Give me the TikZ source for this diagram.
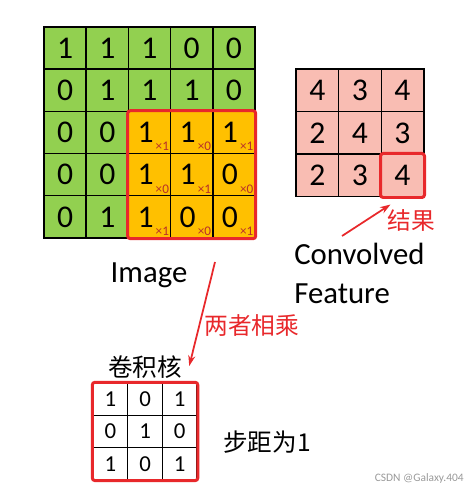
\documentclass[tikz,border=0pt]{standalone}
\usepackage{fontspec}
\setmainfont{Carlito}
\newfontfamily\cjk{Noto Sans CJK SC}
\usetikzlibrary{arrows.meta}

\definecolor{imggreen}{HTML}{92D050}
\definecolor{imgorange}{HTML}{FFC000}
\definecolor{featpink}{HTML}{F9BDB3}
\definecolor{markred}{HTML}{E8282B}
\definecolor{tagred}{HTML}{B8302A}

\begin{document}
\begin{tikzpicture}[x=0.02cm,y=-0.02cm,
  cell/.style={draw=black,line width=0.8pt,inner sep=0pt},
  digit/.style={font=\fontsize{18}{20}\selectfont},
  tag/.style={inner sep=0pt,text=tagred,font=\fontsize{7.5}{9}\selectfont},
  markbox/.style={draw=markred,line width=1.7pt,rounded corners=1.5pt},
  arr/.style={draw=markred,line width=1pt,-{Stealth[length=6pt,width=4pt]}},
  redtext/.style={inner sep=0pt,text=markred,font=\cjk\fontsize{13.5}{15}\selectfont},
  title/.style={inner sep=0pt,font=\fontsize{17.5}{20}\selectfont},
  cjktitle/.style={inner sep=0pt,font=\cjk\fontsize{14}{16}\selectfont}]
  \useasboundingbox (0,0) rectangle (474,492);
  % Sizes
  \pgfmathsetmacro{\imgcell}{42.2}
  \pgfmathsetmacro{\featcell}{42.6}
  \pgfmathsetmacro{\kerw}{34.7}
  \pgfmathsetmacro{\kerh}{32.3}

  % image
  \foreach \row/\vals in {0/{1,1,1,0,0},1/{0,1,1,1,0},2/{0,0,1,1,1},3/{0,0,1,1,0},4/{0,1,1,0,0}} {
    \foreach \v [count=\col from 0] in \vals {
      \def\shade{imggreen}\def\pad{0pt}
      \ifnum\row>1 \ifnum\col>1 \def\shade{imgorange}\def\pad{4.5pt}\fi\fi
      \node[cell,digit,fill=\shade,minimum width=\imgcell*0.02cm,minimum height=\imgcell*0.02cm]
        (img-\row-\col) at (44+\imgcell*\col+\imgcell/2, 27+\imgcell*\row+\imgcell/2) {\v\kern\pad};
    }
  }
  % kernel weights on the patch
  \foreach \row in {2,3,4} {
    \foreach \col in {2,3,4} {
      \pgfmathtruncatemacro{\w}{mod(\row+\col,2)==0 ? 1 : 0}
      \node[tag,anchor=south east] at ([shift={(-2,-3)}]img-\row-\col.south east) {×\w};
    }
  }
  \draw[markbox] (img-2-2.north west) rectangle (img-4-4.south east);
  \node[title] (img-title) at (149,275) {Image};

  % convolved feature
  \foreach \row/\vals in {0/{4,3,4},1/{2,4,3},2/{2,3,4}} {
    \foreach \v [count=\col from 0] in \vals {
      \node[cell,digit,fill=featpink,minimum width=\featcell*0.02cm,minimum height=\featcell*0.02cm]
        (feat-\row-\col) at (296+\featcell*\col+\featcell/2, 69+\featcell*\row+\featcell/2) {\v};
    }
  }
  \draw[markbox] (feat-2-2.north west) rectangle (feat-2-2.south east);
  \node[title,anchor=west] (feat-title1) at (294,254) {Convolved};
  \node[title,anchor=west] (feat-title2) at (294,294) {Feature};

  % result marker
  \node[redtext,anchor=west] (res-label) at (387,220) {结果};
  \coordinate (res-tail) at (342,236);
  \draw[arr] (res-tail) -- ([shift={(10,7)}]feat-2-2.south west);

  % kernel
  \node[cjktitle] (ker-title) at (145,367) {卷积核};
  \foreach \row/\vals in {0/{1,0,1},1/{0,1,0},2/{1,0,1}} {
    \foreach \v [count=\col from 0] in \vals {
      \node[cell,font=\fontsize{13}{15}\selectfont,minimum width=\kerw*0.02cm,minimum height=\kerh*0.02cm]
        (ker-\row-\col) at (93+\kerw*\col+\kerw/2, 383+\kerh*\row+\kerh/2) {\v};
    }
  }
  \draw[markbox] (ker-0-0.north west) rectangle (ker-2-2.south east);
  \node[cjktitle,anchor=west] (stride) at (223,442) {步距为1};

  % multiply marker
  \coordinate (mul-tail) at (215,262);
  \draw[arr] (mul-tail) -- ([shift={(7,-1)}]ker-title.east);
  \node[redtext,anchor=west] (mul-label) at (204,325) {两者相乘};

  % watermark
  \node[inner sep=0pt,anchor=east,text=black!40,font=\fontsize{6.5}{8}\selectfont] (mark) at (464,478) {CSDN @Galaxy.404};
\end{tikzpicture}
\end{document}
